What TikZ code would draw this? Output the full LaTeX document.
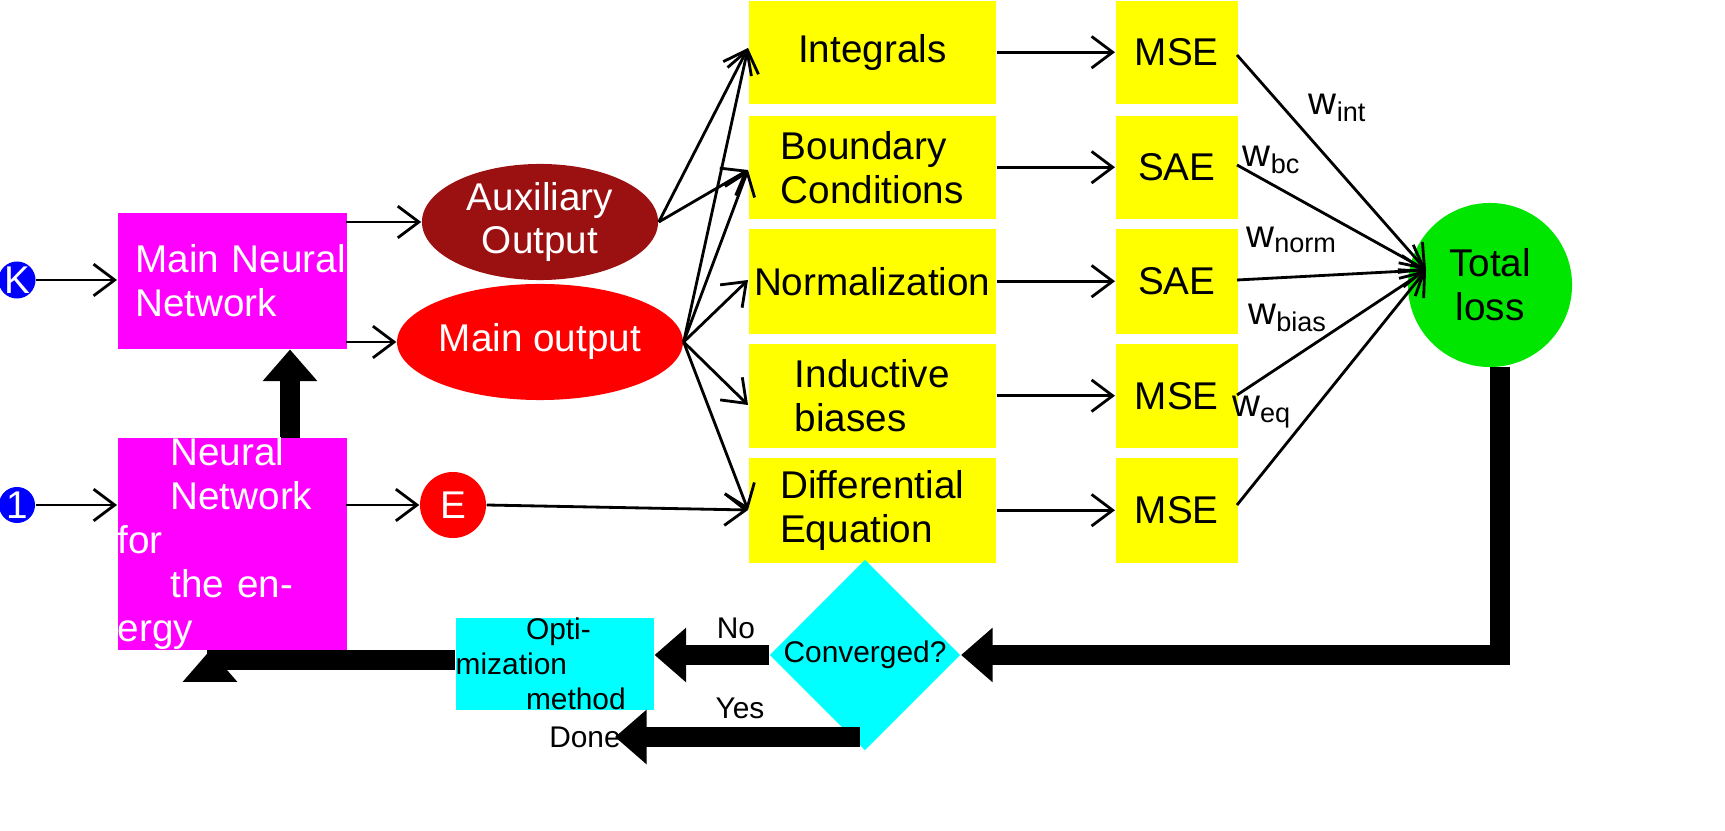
\documentclass[tikz,border=0pt]{standalone}
\usepackage{fontspec}
\setmainfont{Liberation Sans}
\usetikzlibrary{shapes.geometric,arrows.meta}
\definecolor{mag}{RGB}{255,0,255}
\definecolor{yel}{RGB}{255,255,0}
\definecolor{cya}{RGB}{0,255,255}
\definecolor{dred}{RGB}{155,16,16}
\definecolor{grn}{RGB}{0,230,0}
\begin{document}
\begin{tikzpicture}[x=0.01cm,y=-0.01cm,
 big/.style={font=\fontsize{11}{12.5}\selectfont},
 box/.style={draw=none,inner sep=0,anchor=north west,big,align=center},
 ar/.style={-{Straight Barb[length=6pt,width=9pt]},line width=0.8pt},
 thick/.style={-{Triangle[length=9pt,width=15pt]},line width=5.5pt},
 lab/.style={font=\fontsize{11}{12.5}\selectfont},
 sm/.style={font=\fontsize{8.5}{10}\selectfont}]
\useasboundingbox (0,0) rectangle (1725,831);
\draw[line width=5.5pt] (290,660) -- (290,430);
\node[box,fill=mag,minimum width=2.29cm,minimum height=1.36cm,text width=2.29cm,text=white,align=left] (mnn) at (117,212) {\hspace*{5pt}Main Neural\\\hspace*{5pt}Network};
\node[box,fill=mag,minimum width=2.29cm,minimum height=1.38cm,text width=2.29cm,text=white,align=left] (enn) at (117,437) {\hspace*{15pt}Neural\\\hspace*{15pt}Network for\\\hspace*{15pt}the energy};
\node[circle,fill=blue,text=white,minimum size=0.36cm,inner sep=0,big] (K) at (17,280) {K};
\node[circle,fill=blue,text=white,minimum size=0.36cm,inner sep=0,big] (one) at (17,505) {1};
\node[ellipse,fill=dred,text=white,minimum width=2.36cm,minimum height=1.16cm,inner sep=0,big,align=center] (aux) at (540,222) {Auxiliary\\Output};
\node[ellipse,fill=red,text=white,minimum width=2.36cm,minimum height=1.16cm,inner sep=0,big] (mo) at (540,342) {Main output};
\node[circle,fill=red,text=white,minimum size=0.66cm,inner sep=0,big] (E) at (453,505) {E};
\foreach \n/\y/\h/\t in {int/0/1.03/Integrals,bc/115/1.03/{Boundary\\Conditions},norm/228/1.05/Normalization,ib/343/1.04/{Inductive\\biases},de/457/1.05/{Differential\\Equation}}{
  \node[box,fill=yel,minimum width=2.47cm,minimum height=\h cm] (\n) at (748,\y) {};
  \node[big,align=left] at (\n.center) {\t};
}
\foreach \n/\y/\h/\t in {m1/0/1.03/MSE,m2/115/1.03/SAE,m3/228/1.05/SAE,m4/343/1.04/MSE,m5/457/1.05/MSE}{
  \node[box,fill=yel,minimum width=1.22cm,minimum height=\h cm] (\n) at (1115,\y) {};
  \node[big] at (\n.center) {\t};
}
\node[circle,fill=grn,minimum size=1.64cm,inner sep=0,big,align=center] (tl) at (1490,285) {Total\\loss};
\node[diamond,fill=cya,minimum width=1.78cm,minimum height=1.80cm,inner sep=0,sm] (cv) at (865,655) {Converged?};
\node[box,fill=cya,minimum width=1.98cm,minimum height=0.73cm,text width=1.98cm,align=left,sm] (opt) at (455,617) {\hspace*{20pt}Optimization\\\hspace*{20pt}method};
\node[sm] (done) at (585,737) {Done};
\coordinate (dn) at (615,737);
\draw[ar] (K) -- (mnn.west|-K);
\draw[ar] (one) -- (enn.west|-one);
\draw[ar] (346,222) -- (aux.west);
\draw[ar] (346,342) -- (mo.west);
\draw[ar] (346,505) -- (E.west);
\draw[ar] (E.east) -- (748,510);
\draw[ar] (aux.east) -- (748,48);
\draw[ar] (aux.east) -- (748,170);
\foreach \y in {48,170,280,405,510} \draw[ar] (mo.east) -- (748,\y);
\draw[ar] (int.east) -- (m1.west);
\draw[ar] (bc.east) -- (m2.west);
\draw[ar] (norm.east) -- (m3.west);
\draw[ar] (ib.east) -- (m4.west);
\draw[ar] (de.east) -- (m5.west);
\coordinate (tp) at (1426,270);
\foreach \y in {55,165,280,395,505} \draw[ar] (1237,\y) -- (tp);
\node[lab] at (1338,108) {w\textsubscript{int}};
\node[lab] at (1272,160) {w\textsubscript{bc}};
\node[lab] at (1292,240) {w\textsubscript{norm}};
\node[lab] at (1288,318) {w\textsubscript{bias}};
\node[lab] at (1262,412) {w\textsubscript{eq}};
\node[sm] at (736,628) {No};
\node[sm] at (740,708) {Yes};
\draw[thick] (1500,367) |- (cv.east);
\draw[thick] (cv.west) -- (opt.east|-cv.west);
\draw[line width=5.5pt] (opt.west|-0,660) -- (207,660);
\draw[thick] (210,662) -- (enn.south-|210,0);
\draw[thick] (290,437) -- (mnn.south-|290,0);
\draw[thick] (860,737) -- (dn);
\end{tikzpicture}
\end{document}
